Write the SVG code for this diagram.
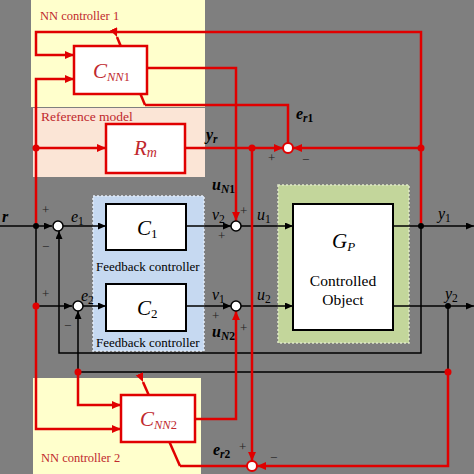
<svg xmlns="http://www.w3.org/2000/svg" width="474" height="474" viewBox="0 0 474 474" font-family="'Liberation Serif', 'DejaVu Serif', serif">
<style>
text{font-family:'Liberation Serif','DejaVu Serif',serif;}
.ttl{font-size:12.5px;fill:#c0282d;}
.lbl{font-size:13px;fill:#000;}
.var{font-size:16px;font-style:italic;fill:#000;}
.bv{font-size:16px;font-style:italic;font-weight:bold;fill:#000;}
.sub{font-size:11.5px;}
.big{font-size:21px;font-style:italic;}
.sg{font-size:13px;fill:#222;}
.rl{fill:none;stroke:#e00000;stroke-width:2.5;}
.bl{fill:none;stroke:#000;stroke-width:1.5;}
.rbox{fill:#fff;stroke:#e00000;stroke-width:2.5;}
.bbox{fill:#fff;stroke:#000;stroke-width:2;}
.rj{fill:#fff;stroke:#e00000;stroke-width:2;}
.bj{fill:#fff;stroke:#000;stroke-width:1.5;}
.rd{fill:#e00000;}
.bd{fill:#000;}
</style>
<defs>
<marker id="ab" viewBox="0 0 8 7" refX="8" refY="3.5" markerWidth="8" markerHeight="7" markerUnits="userSpaceOnUse" orient="auto"><path d="M0,0 L8,3.5 L0,7 z" fill="#000"/></marker>
<marker id="ar" viewBox="0 0 8 7" refX="8" refY="3.5" markerWidth="9" markerHeight="8" markerUnits="userSpaceOnUse" orient="auto"><path d="M0,0 L8,3.5 L0,7 z" fill="#e00000"/></marker>
</defs>
<rect x="0" y="0" width="474" height="474" fill="#7f7f7f"/>
<g id="panels">
<rect id="panel-nn1" x="31" y="0" width="174" height="107" fill="#ffffcc"/>
<rect id="panel-ref" x="33" y="108" width="172" height="69" fill="#fbe5d6"/>
<rect id="panel-nn2" x="33" y="378" width="168" height="96" fill="#ffffcc"/>
<rect id="panel-fb" x="93" y="196" width="111" height="155" fill="#c6d9f1" stroke="#e4ecf7" stroke-width="1.5" stroke-dasharray="2 2"/>
<rect id="panel-gp" x="278" y="185" width="131" height="158" fill="#c3d69b" stroke="#dfe9c9" stroke-width="1.5" stroke-dasharray="2 2"/>
<text class="ttl" x="40" y="20">NN controller 1</text>
<text class="ttl" x="41" y="121" style="font-size:13.5px">Reference  model</text>
<text class="ttl" x="41" y="462">NN controller 2</text>
<text class="lbl" x="96" y="271">Feedback  controller</text>
<text class="lbl" x="96" y="347">Feedback  controller</text>
</g>
<g id="connectors">
<path class="bl" d="M0,226 H52" marker-end="url(#ab)"/>
<path class="bl" d="M63,226 H106" marker-end="url(#ab)"/>
<path class="bl" d="M36,226 V306 H72" marker-end="url(#ab)"/>
<path class="bl" d="M83,306 H106" marker-end="url(#ab)"/>
<path class="bl" d="M186,226 H231" marker-end="url(#ab)"/>
<path class="bl" d="M186,306 H231" marker-end="url(#ab)"/>
<path class="bl" d="M241,226 H293" marker-end="url(#ab)"/>
<path class="bl" d="M241,306 H293" marker-end="url(#ab)"/>
<path class="bl" d="M393,226 H474" marker-end="url(#ab)"/>
<path class="bl" d="M393,306 H474" marker-end="url(#ab)"/>
<path class="bl" d="M421,226 V353 H59 V231" marker-end="url(#ab)"/>
<path class="bl" d="M448,306 V372 H78 V311" marker-end="url(#ab)"/>
<path class="rl" d="M117,37 L145,105" marker-start="url(#ar)"/>
<path class="rl" d="M143,382 L180,466" marker-start="url(#ar)"/>
<path class="rl" d="M421,226 V32 H36 V55 H74" marker-end="url(#ar)"/>
<path class="rl" d="M36,226 V79 H74" marker-end="url(#ar)"/>
<path class="rl" d="M36,306 V429 H121" marker-end="url(#ar)"/>
<path class="rl" d="M36,148 H106" marker-end="url(#ar)"/>
<path class="rl" d="M185,148 H283" marker-end="url(#ar)"/>
<path class="rl" d="M421,148 H293" marker-end="url(#ar)"/>
<path class="rl" d="M288,143 V105 H145"/>
<path class="rl" d="M252,148 V461" marker-end="url(#ar)"/>
<path class="rl" d="M147,68 H236 V221" marker-end="url(#ar)"/>
<path class="rl" d="M195,419 H236 V311" marker-end="url(#ar)"/>
<path class="rl" d="M78,372 V405 H121" marker-end="url(#ar)"/>
<path class="rl" d="M448,372 V466 H257" marker-end="url(#ar)"/>
<path class="rl" d="M247,466 H180"/>
</g>
<g id="cnn1">
<rect class="rbox" x="74" y="46" width="73" height="48"/>
<text x="93" y="78" class="big" fill="#c0282d">C<tspan style="font-size:12.5px" dy="3">NN</tspan><tspan style="font-size:12.5px;font-style:normal">1</tspan></text>
</g>
<g id="rm">
<rect class="rbox" x="106" y="124" width="79" height="49"/>
<text x="134" y="155" class="big" fill="#c0282d">R<tspan style="font-size:14px" dy="2">m</tspan></text>
</g>
<g id="cnn2">
<rect class="rbox" x="121" y="395" width="74" height="47"/>
<text x="140" y="426" class="big" fill="#c0282d">C<tspan style="font-size:12.5px" dy="3">NN</tspan><tspan style="font-size:12.5px;font-style:normal">2</tspan></text>
</g>
<g id="c1">
<rect class="bbox" x="106" y="204" width="80" height="46"/>
<text x="137" y="235" class="big">C<tspan style="font-size:13px;font-style:normal" dy="3">1</tspan></text>
</g>
<g id="c2">
<rect class="bbox" x="106" y="284" width="80" height="47"/>
<text x="137" y="315" class="big">C<tspan style="font-size:13px;font-style:normal" dy="3">2</tspan></text>
</g>
<g id="gp">
<rect class="bbox" x="293" y="204" width="100" height="126"/>
<text x="332" y="248" class="big">G<tspan style="font-size:13px" dy="3">P</tspan></text>
<text x="343" y="286" style="font-size:15.5px" text-anchor="middle">Controlled</text>
<text x="343" y="305" style="font-size:15.5px" text-anchor="middle">Object</text>
</g>
<g id="junctions">
<circle id="sum-e1" class="bj" cx="58" cy="226" r="5"/>
<circle id="sum-e2" class="bj" cx="78" cy="306" r="5"/>
<circle id="sum-u1" class="bj" cx="236" cy="226" r="5"/>
<circle id="sum-u2" class="bj" cx="236" cy="306" r="5"/>
<circle id="sum-er1" class="rj" cx="288" cy="148" r="5"/>
<circle id="sum-er2" class="rj" cx="252" cy="466" r="5"/>
<circle class="bd" cx="36" cy="226" r="3"/>
<circle class="rd" cx="36" cy="306" r="3.5"/>
<circle class="rd" cx="36" cy="148" r="3.5"/>
<circle class="rd" cx="252" cy="148" r="3.5"/>
<circle class="rd" cx="421" cy="148" r="3.5"/>
<circle class="bd" cx="421" cy="226" r="3"/>
<circle class="bd" cx="448" cy="306" r="3"/>
<circle class="rd" cx="448" cy="372" r="3.5"/>
<circle class="rd" cx="78" cy="372" r="3.5"/>
</g>
<g id="labels">
<text class="bv" x="2" y="222">r</text>
<text class="sg" x="42" y="214">+</text>
<text class="sg" x="42" y="251">−</text>
<text class="var" x="71" y="222">e<tspan class="sub" style="font-style:normal" dy="3">1</tspan></text>
<text class="sg" x="42" y="298">+</text>
<text class="sg" x="64" y="330">−</text>
<text class="var" x="81" y="301">e<tspan class="sub" style="font-style:normal" dy="3">2</tspan></text>
<text class="var" x="212" y="220">v<tspan class="sub" style="font-style:normal" dy="3">2</tspan></text>
<text class="bv" x="212" y="190">u<tspan class="sub" dy="3">N</tspan><tspan class="sub" style="font-style:normal">1</tspan></text>
<text class="sg" x="240" y="215">+</text>
<text class="sg" x="218" y="240">+</text>
<text class="var" x="257" y="220">u<tspan class="sub" style="font-style:normal" dy="3">1</tspan></text>
<text class="var" x="212" y="300">v<tspan class="sub" style="font-style:normal" dy="3">1</tspan></text>
<text class="sg" x="212" y="320">+</text>
<text class="bv" x="212" y="337">u<tspan class="sub" dy="3">N</tspan><tspan class="sub" style="font-style:normal">2</tspan></text>
<text class="sg" x="240" y="332">+</text>
<text class="var" x="257" y="300">u<tspan class="sub" style="font-style:normal" dy="3">2</tspan></text>
<text class="var" x="438" y="219">y<tspan class="sub" style="font-style:normal" dy="3">1</tspan></text>
<text class="var" x="445" y="299">y<tspan class="sub" style="font-style:normal" dy="3">2</tspan></text>
<text class="bv" x="206" y="140">y<tspan class="sub" dy="3">r</tspan></text>
<text class="bv" x="296" y="119">e<tspan class="sub" dy="3">r</tspan><tspan class="sub" style="font-style:normal">1</tspan></text>
<text class="sg" x="268" y="162">+</text>
<text class="sg" x="302" y="164">−</text>
<text class="bv" x="213" y="455">e<tspan class="sub" dy="3">r</tspan><tspan class="sub" style="font-style:normal">2</tspan></text>
<text class="sg" x="239" y="451">+</text>
<text class="sg" x="270" y="462">−</text>
</g>
</svg>
